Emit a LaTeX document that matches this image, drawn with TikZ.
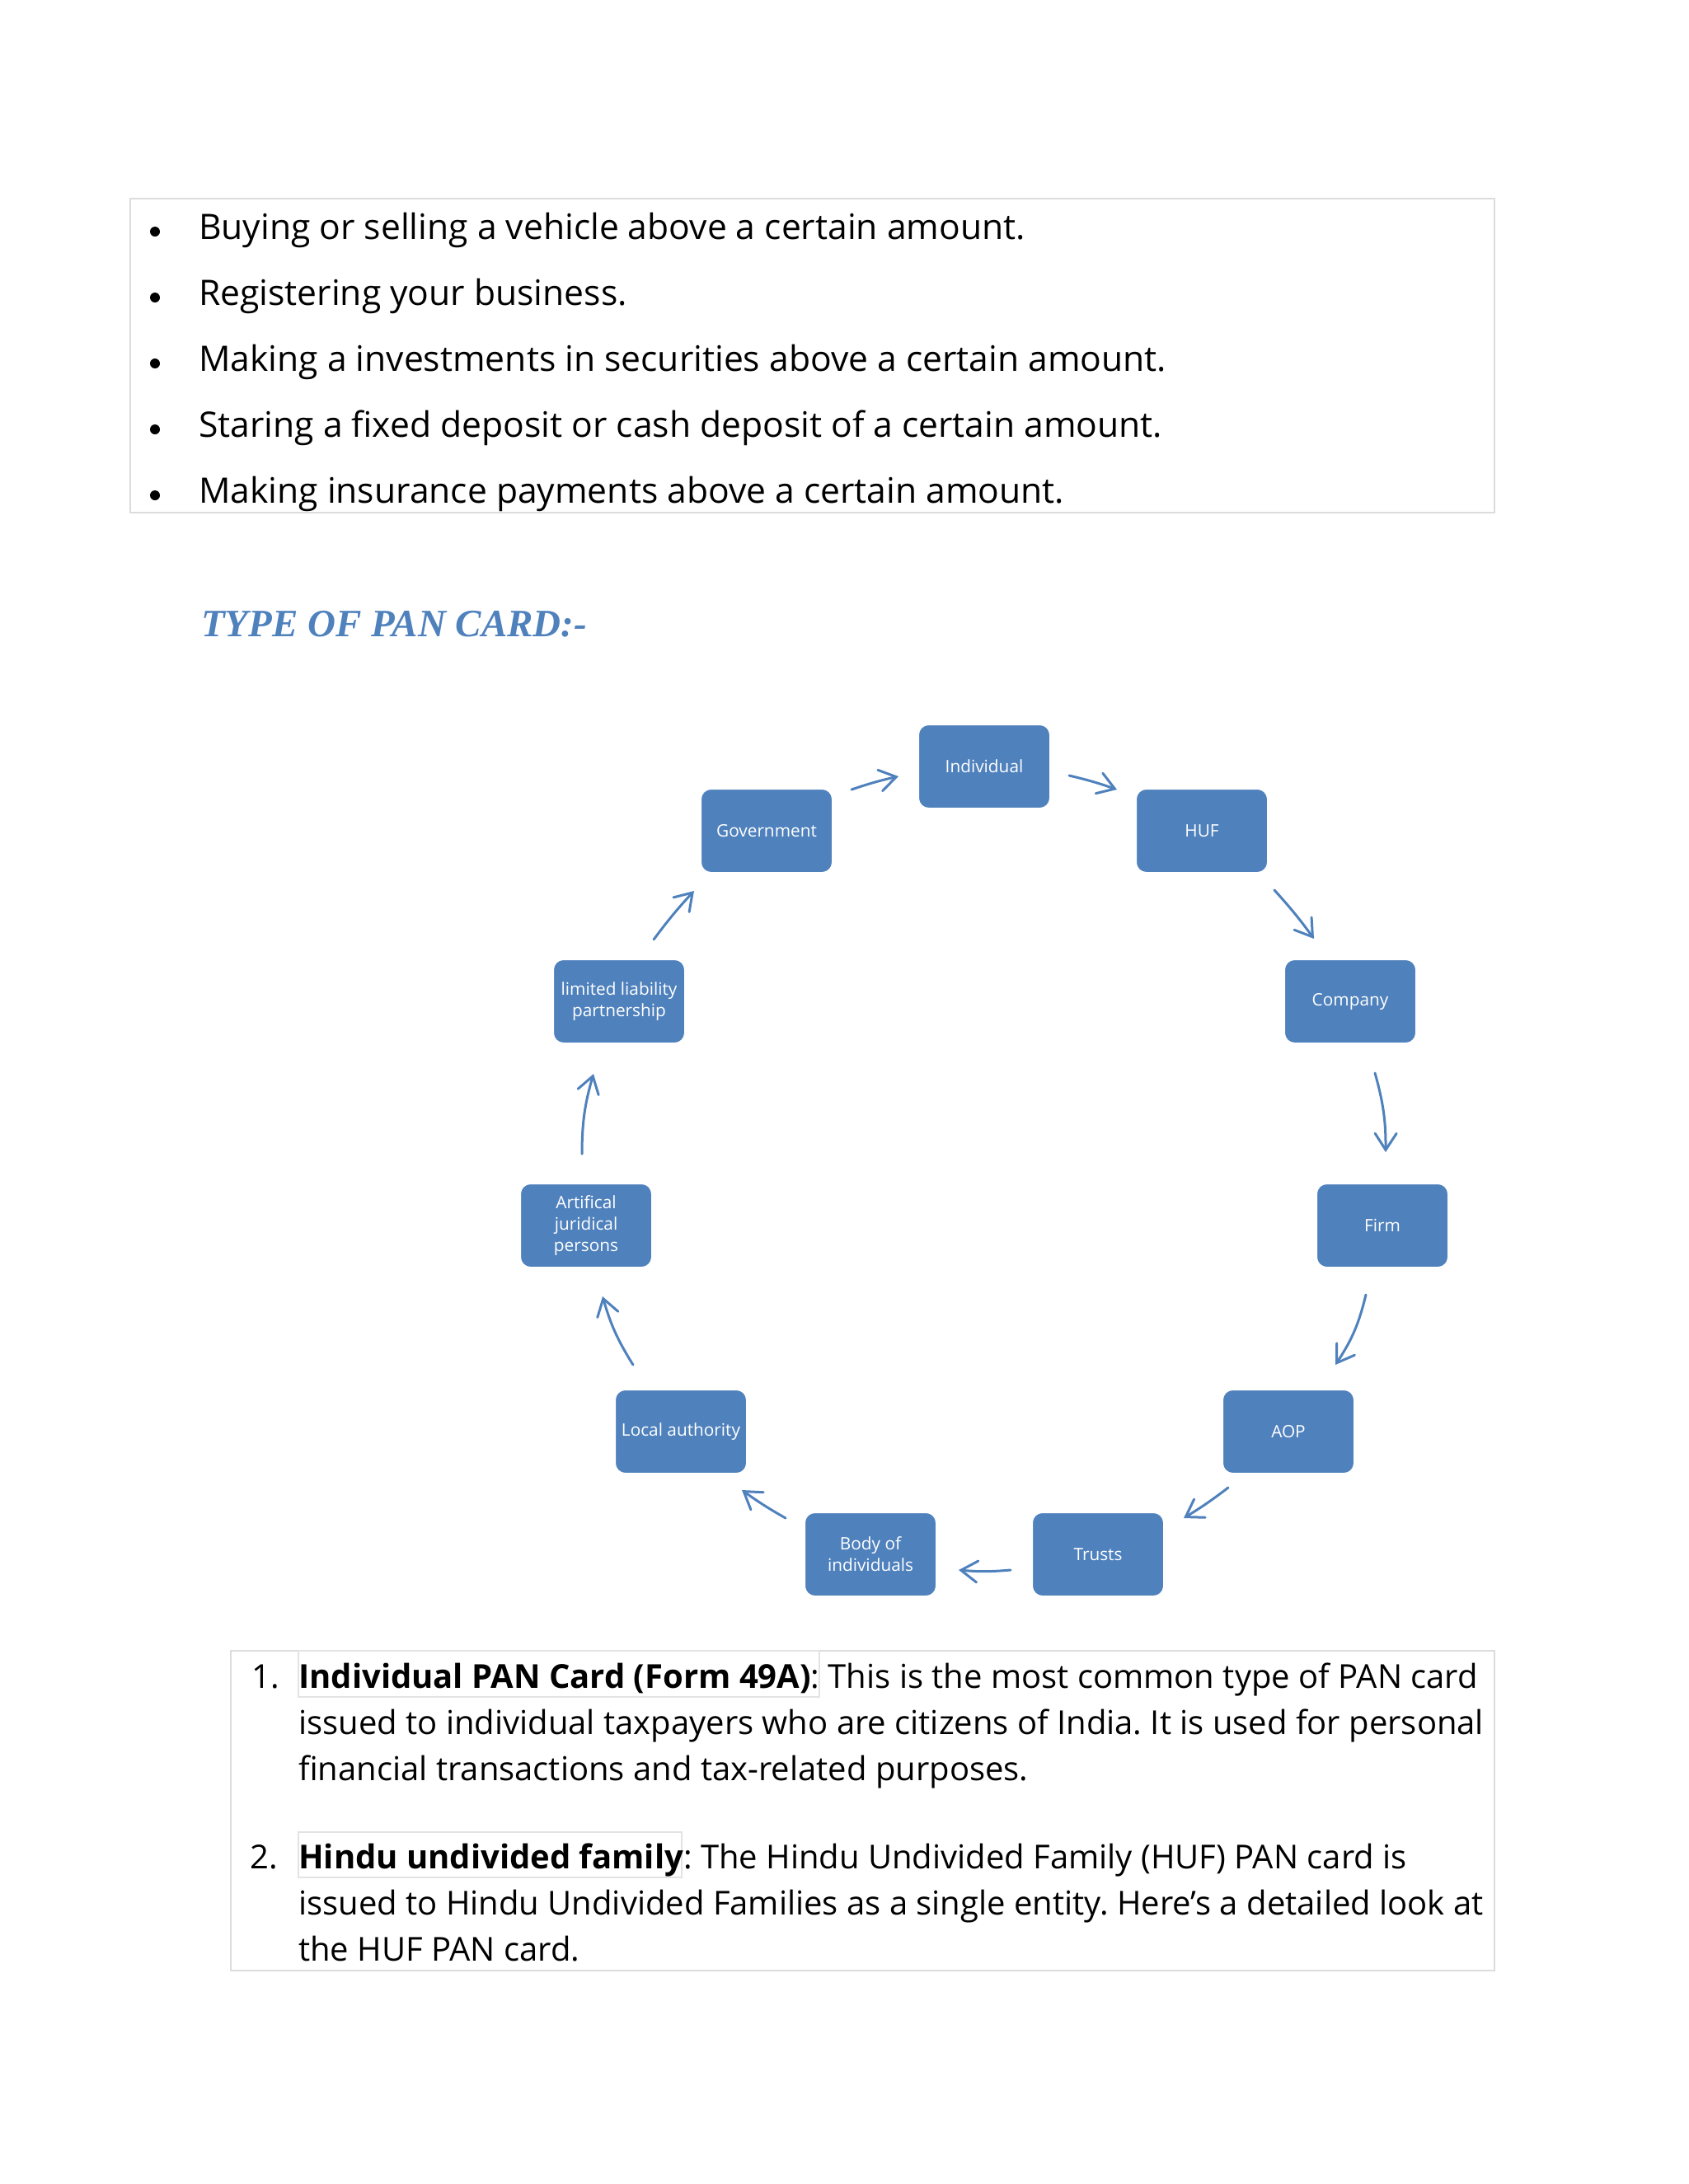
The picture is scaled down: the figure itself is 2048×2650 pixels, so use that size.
\documentclass[tikz,border=0pt]{standalone}
\usepackage{fontspec}
\setmainfont{Open Sans}
\newfontfamily\headfont{Liberation Serif}
\usetikzlibrary{arrows.meta}
\definecolor{accent}{HTML}{4F81BD}
\definecolor{framegray}{HTML}{DCDCDC}
\frenchspacing
\begin{document}
\begin{tikzpicture}[x=1pt,y=-1pt,
  stage/.style={draw=white, line width=1pt, fill=accent, rounded corners=12pt,
    minimum width=159pt, minimum height=101pt, text=white, align=center,
    inner sep=0pt, font=\fontsize{20.8}{26}\selectfont},
  bodyline/.style={anchor=base west, inner sep=0pt, font=\fontsize{42.6}{51}\selectfont},
  listline/.style={anchor=base west, inner sep=0pt, font=\fontsize{40}{48}\selectfont},
  bulletdot/.style={circle, fill=black, inner sep=0pt, minimum size=12pt},
  cyc/.style={draw=accent, line width=3pt, line cap=round,
    -{Straight Barb[length=20pt,width=26pt,line cap=round]}},
  panel/.style={draw=framegray, line width=1.5pt},
  hl/.style={draw=framegray!80, line width=1.2pt}
]
\fill[white] (0,0) rectangle (2048,2650);
\useasboundingbox (0,0) rectangle (2048,2650);

% top bullet panel
\draw[panel] (158,241) rectangle (1813,622);
\node[bulletdot] (d1) at (188,281) {};
\node[bulletdot] (d2) at (188,361) {};
\node[bulletdot] (d3) at (188,441) {};
\node[bulletdot] (d4) at (188,521) {};
\node[bulletdot] (d5) at (188,601) {};
\node[bodyline] (t1) at (241,290) {Buying or selling a vehicle above a certain amount.};
\node[bodyline] (t2) at (241,370) {Registering your business.};
\node[bodyline] (t3) at (241,450) {Making a investments in securities above a certain amount.};
\node[bodyline] (t4) at (241,530) {Staring a fixed deposit or cash deposit of a certain amount.};
\node[bodyline] (t5) at (241,610) {Making insurance payments above a certain amount.};

% heading
\node[anchor=base west, inner sep=0pt, text=accent,
  font=\headfont\bfseries\itshape\fontsize{47}{56}\selectfont] (head) at (244,772) {TYPE OF PAN CARD:-};

% cycle boxes
\node[stage] (ind)    at (1194,930)  {Individual};
\node[stage] (huf)    at (1458,1008) {HUF};
\node[stage] (comp)   at (1638,1215) {Company};
\node[stage] (firm)   at (1677,1487) {Firm};
\node[stage] (aop)    at (1563,1737) {AOP};
\node[stage] (trusts) at (1332,1886) {Trusts};
\node[stage] (boi)    at (1056,1886) {Body of\\individuals};
\node[stage] (la)     at (826,1737)  {Local authority};
\node[stage] (ajp)    at (711,1487)  {Artifical\\juridical\\persons};
\node[stage] (llp)    at (751,1215)  {limited liability\\partnership};
\node[stage] (gov)    at (930,1008)  {Government};

% cycle arrows
\draw[cyc] ([shift={(103,-50)}]gov.center) to[bend left=3] ([shift={(-104,12)}]ind.center);
\draw[cyc] ([shift={(103,11)}]ind.center) to[bend left=3] ([shift={(-103,-50)}]huf.center);
\draw[cyc] ([shift={(88,72)}]huf.center) to[bend left=3] ([shift={(-44,-76)}]comp.center);
\draw[cyc] ([shift={(30,87)}]comp.center) to[bend left=8] ([shift={(4,-89)}]firm.center);
\draw[cyc] ([shift={(-20,84)}]firm.center) to[bend left=10] ([shift={(57,-81)}]aop.center);
\draw[cyc] ([shift={(-73,68)}]aop.center) to[bend left=3] ([shift={(104,-44)}]trusts.center);
\draw[cyc] ([shift={(-106,19)}]trusts.center) to[bend left=5] ([shift={(107,19)}]boi.center);
\draw[cyc] ([shift={(-103,-44)}]boi.center) to[bend left=3] ([shift={(74,71)}]la.center);
\draw[cyc] ([shift={(-58,-81)}]la.center) to[bend left=8] ([shift={(20,86)}]ajp.center);
\draw[cyc] ([shift={(-5,-87)}]ajp.center) to[bend left=8] ([shift={(-31,88)}]llp.center);
\draw[cyc] ([shift={(42,-75)}]llp.center) to[bend left=3] ([shift={(-88,73)}]gov.center);

% bottom numbered panel
\draw[panel] (280,2003) rectangle (1813,2391);
\draw[hl] (362,2003) rectangle (994,2059);
\draw[hl] (362,2223) rectangle (827,2278);
\node[listline] (n1) at (305,2048) {1.};
\node[listline] (n2) at (303,2267) {2.};
\node[listline] (l1) at (362,2048) {{\bfseries Individual PAN Card (Form 49A)}: This is the most common type of PAN card};
\node[listline] (l2) at (362,2104) {issued to individual taxpayers who are citizens of India. It is used for personal};
\node[listline] (l3) at (362,2160) {financial transactions and tax-related purposes.};
\node[listline] (l4) at (362,2267) {{\bfseries Hindu undivided family}: The Hindu Undivided Family (HUF) PAN card is};
\node[listline] (l5) at (362,2323) {issued to Hindu Undivided Families as a single entity. Here's a detailed look at};
\node[listline] (l6) at (362,2379) {the HUF PAN card.};
\end{tikzpicture}
\end{document}
